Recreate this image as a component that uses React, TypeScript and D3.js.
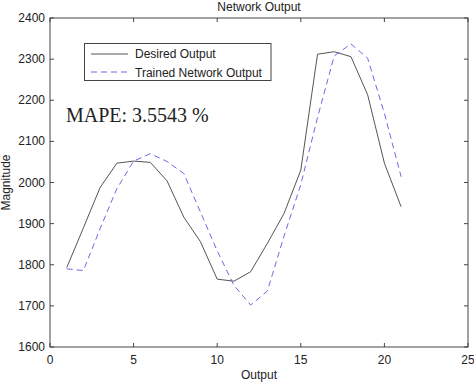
import React from "react";
import * as d3 from "d3";

const xs = [1, 2, 3, 4, 5, 6, 7, 8, 9, 10, 11, 12, 13, 14, 15, 16, 17, 18, 19, 20, 21];
const desired = [1793, 1890, 1988, 2047, 2052, 2049, 2004, 1916, 1856, 1765, 1760, 1783, 1852, 1925, 2030, 2312, 2318, 2306, 2213, 2047, 1941];
const trained = [1790, 1786, 1888, 1985, 2052, 2070, 2051, 2022, 1928, 1834, 1750, 1702, 1736, 1870, 1995, 2158, 2308, 2337, 2302, 2168, 2014];
const xTicks = [0, 5, 10, 15, 20, 25];
const yTicks = [1600, 1700, 1800, 1900, 2000, 2100, 2200, 2300, 2400];
const seriesNames = ["Desired Output", "Trained Network Output"];
const title = "Network Output";
const xLabel = "Output";
const yLabel = "Magnitude";
const mapeText = "MAPE: 3.5543 %";

const W = 474, H = 382;
const L = 50, R = 468, T = 18, B = 347;

export default function App() {
  const x = d3.scaleLinear().domain([0, 25]).range([L, R]);
  const y = d3.scaleLinear().domain([1600, 2400]).range([B, T]);
  const line = d3.line<[number, number]>().x(d => x(d[0])).y(d => y(d[1]));
  const dPath = line(xs.map((v, i) => [v, desired[i]] as [number, number])) || "";
  const tPath = line(xs.map((v, i) => [v, trained[i]] as [number, number])) || "";
  const axisColor = "#444";
  const font = "'Liberation Sans', Arial, sans-serif";
  const fs = 12;
  const tl = 4;
  return (
    <svg width={W} height={H} style={{ position: "absolute", left: 0, top: 0, background: "#fff" }}>
      <rect x={0} y={0} width={W} height={H} fill="#fff" />
      <text x={(L + R) / 2} y={11} textAnchor="middle" fontFamily={font} fontSize={fs} fill="#222">{title}</text>
      <path d={dPath} fill="none" stroke="#555" strokeWidth={1} />
      <path d={tPath} fill="none" stroke="#6a6ae8" strokeWidth={1} strokeDasharray="6,4" />
      <rect x={L} y={T} width={R - L} height={B - T} fill="none" stroke={axisColor} strokeWidth={1} />
      {xTicks.map(t => (
        <g key={"x" + t}>
          <line x1={x(t)} x2={x(t)} y1={B} y2={B - tl} stroke={axisColor} />
          <line x1={x(t)} x2={x(t)} y1={T} y2={T + tl} stroke={axisColor} />
          <text x={x(t)} y={364} textAnchor="middle" fontFamily={font} fontSize={fs} fill="#222">{t}</text>
        </g>
      ))}
      {yTicks.map(t => (
        <g key={"y" + t}>
          <line x1={L} x2={L + tl} y1={y(t)} y2={y(t)} stroke={axisColor} />
          <line x1={R} x2={R - tl} y1={y(t)} y2={y(t)} stroke={axisColor} />
          <text x={45} y={y(t) + 4} textAnchor="end" fontFamily={font} fontSize={fs} fill="#222">{t}</text>
        </g>
      ))}
      <text x={(L + R) / 2} y={379} textAnchor="middle" fontFamily={font} fontSize={fs} fill="#222">{xLabel}</text>
      <text transform={`translate(10,${(T + B) / 2}) rotate(-90)`} textAnchor="middle" fontFamily={font} fontSize={fs} fill="#222">{yLabel}</text>
      <rect x={84.5} y={43.5} width={186.5} height={37} fill="#fff" stroke={axisColor} strokeWidth={1} />
      <line x1={91} x2={128} y1={54} y2={54} stroke="#555" />
      <text x={135} y={58} fontFamily={font} fontSize={fs} fill="#222">{seriesNames[0]}</text>
      <line x1={91} x2={128} y1={72} y2={72} stroke="#6a6ae8" strokeDasharray="6,4" />
      <text x={135} y={76.5} fontFamily={font} fontSize={fs} fill="#222">{seriesNames[1]}</text>
      <text x={66} y={122} fontFamily="'Liberation Serif', 'Times New Roman', serif" fontSize={20} fill="#222">{mapeText}</text>
    </svg>
  );
}
